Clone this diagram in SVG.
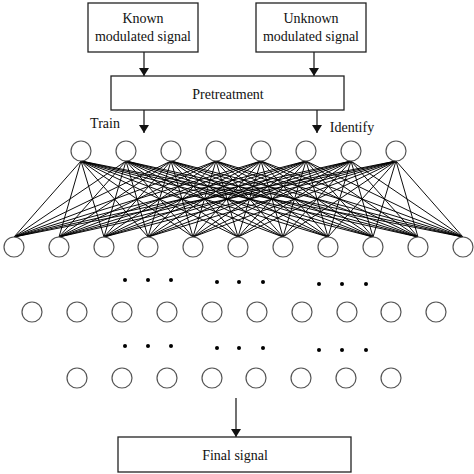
<svg xmlns="http://www.w3.org/2000/svg" width="474" height="474" viewBox="0 0 474 474">
<style>
.box{fill:#fff;stroke:#222;stroke-width:1.3}
.t{font-family:"Liberation Serif","Times New Roman",serif;font-size:14px;fill:#111;text-anchor:middle}
.n{fill:#fff;stroke:#555;stroke-width:1.2}
.arr{stroke:#111;stroke-width:1.2;fill:none;marker-end:url(#ah)}
.w{stroke:#000;stroke-width:0.95;fill:none}
.d{fill:#000}
</style>
<defs>
<marker id="ah" markerWidth="8" markerHeight="10" refX="8" refY="5" orient="auto" markerUnits="userSpaceOnUse">
<path d="M0,0 L8,5 L0,10 Z" fill="#111"/>
</marker>
</defs>
<rect width="474" height="474" fill="#fff"/>
<g id="connectors">
<line class="arr" x1="144" y1="52" x2="144" y2="76"/>
<line class="arr" x1="314" y1="52" x2="314" y2="76"/>
<line class="arr" x1="144" y1="110" x2="144" y2="133"/>
<line class="arr" x1="317" y1="110" x2="317" y2="133"/>
<line class="arr" x1="236" y1="398" x2="236" y2="437"/>
<g id="weights">
<path class="w" d="M81,161L14,237M81,161L59,237M81,161L104,237M81,161L148,237M81,161L193,237M81,161L238,237M81,161L283,237M81,161L328,237M81,161L373,237M81,161L418,237M81,161L463,237
M126,161L14,237M126,161L59,237M126,161L104,237M126,161L148,237M126,161L193,237M126,161L238,237M126,161L283,237M126,161L328,237M126,161L373,237M126,161L418,237M126,161L463,237
M171,161L14,237M171,161L59,237M171,161L104,237M171,161L148,237M171,161L193,237M171,161L238,237M171,161L283,237M171,161L328,237M171,161L373,237M171,161L418,237M171,161L463,237
M216,161L14,237M216,161L59,237M216,161L104,237M216,161L148,237M216,161L193,237M216,161L238,237M216,161L283,237M216,161L328,237M216,161L373,237M216,161L418,237M216,161L463,237
M261,161L14,237M261,161L59,237M261,161L104,237M261,161L148,237M261,161L193,237M261,161L238,237M261,161L283,237M261,161L328,237M261,161L373,237M261,161L418,237M261,161L463,237
M306,161L14,237M306,161L59,237M306,161L104,237M306,161L148,237M306,161L193,237M306,161L238,237M306,161L283,237M306,161L328,237M306,161L373,237M306,161L418,237M306,161L463,237
M351,161L14,237M351,161L59,237M351,161L104,237M351,161L148,237M351,161L193,237M351,161L238,237M351,161L283,237M351,161L328,237M351,161L373,237M351,161L418,237M351,161L463,237
M396,161L14,237M396,161L59,237M396,161L104,237M396,161L148,237M396,161L193,237M396,161L238,237M396,161L283,237M396,161L328,237M396,161L373,237M396,161L418,237M396,161L463,237"/>
</g>
</g>
<g id="known">
<rect class="box" x="88" y="3" width="110" height="49"/>
<text class="t" x="143" y="23">Known</text>
<text class="t" x="143" y="41">modulated signal</text>
</g>
<g id="unknown">
<rect class="box" x="256" y="3" width="110" height="49"/>
<text class="t" x="311" y="23">Unknown</text>
<text class="t" x="311" y="41">modulated signal</text>
</g>
<g id="pretreatment">
<rect class="box" x="111" y="76" width="233" height="34"/>
<text class="t" x="228" y="99">Pretreatment</text>
</g>
<g id="labels">
<text class="t" x="105" y="128">Train</text>
<text class="t" x="352" y="132">Identify</text>
</g>
<g id="layer1">
<circle class="n" cx="81" cy="151" r="10"/><circle class="n" cx="126" cy="151" r="10"/><circle class="n" cx="171" cy="151" r="10"/><circle class="n" cx="216" cy="151" r="10"/><circle class="n" cx="261" cy="151" r="10"/><circle class="n" cx="306" cy="151" r="10"/><circle class="n" cx="351" cy="151" r="10"/><circle class="n" cx="396" cy="151" r="10"/>
</g>
<g id="layer2">
<circle class="n" cx="14" cy="247" r="10"/><circle class="n" cx="59" cy="247" r="10"/><circle class="n" cx="104" cy="247" r="10"/><circle class="n" cx="148" cy="247" r="10"/><circle class="n" cx="193" cy="247" r="10"/><circle class="n" cx="238" cy="247" r="10"/><circle class="n" cx="283" cy="247" r="10"/><circle class="n" cx="328" cy="247" r="10"/><circle class="n" cx="373" cy="247" r="10"/><circle class="n" cx="418" cy="247" r="10"/><circle class="n" cx="463" cy="247" r="10"/>
</g>
<g id="dots1">
<circle class="d" cx="125" cy="280" r="2"/><circle class="d" cx="148" cy="280" r="2"/><circle class="d" cx="171" cy="280" r="2"/>
<circle class="d" cx="217" cy="282" r="2"/><circle class="d" cx="239" cy="282" r="2"/><circle class="d" cx="263" cy="282" r="2"/>
<circle class="d" cx="319" cy="284" r="2"/><circle class="d" cx="342" cy="284" r="2"/><circle class="d" cx="366" cy="284" r="2"/>
</g>
<g id="layer3">
<circle class="n" cx="32" cy="312" r="10"/><circle class="n" cx="77" cy="312" r="10"/><circle class="n" cx="122" cy="312" r="10"/><circle class="n" cx="167" cy="312" r="10"/><circle class="n" cx="212" cy="312" r="10"/><circle class="n" cx="257" cy="312" r="10"/><circle class="n" cx="302" cy="312" r="10"/><circle class="n" cx="347" cy="312" r="10"/><circle class="n" cx="391" cy="312" r="10"/><circle class="n" cx="436" cy="312" r="10"/>
</g>
<g id="dots2">
<circle class="d" cx="125" cy="346" r="2"/><circle class="d" cx="148" cy="346" r="2"/><circle class="d" cx="171" cy="346" r="2"/>
<circle class="d" cx="217" cy="348" r="2"/><circle class="d" cx="239" cy="348" r="2"/><circle class="d" cx="263" cy="348" r="2"/>
<circle class="d" cx="319" cy="350" r="2"/><circle class="d" cx="342" cy="350" r="2"/><circle class="d" cx="366" cy="350" r="2"/>
</g>
<g id="layer4">
<circle class="n" cx="77" cy="378" r="10"/><circle class="n" cx="122" cy="378" r="10"/><circle class="n" cx="167" cy="378" r="10"/><circle class="n" cx="212" cy="378" r="10"/><circle class="n" cx="256" cy="378" r="10"/><circle class="n" cx="301" cy="378" r="10"/><circle class="n" cx="346" cy="378" r="10"/><circle class="n" cx="391" cy="378" r="10"/>
</g>
<g id="final">
<rect class="box" x="118" y="437" width="233" height="35"/>
<text class="t" x="235" y="460">Final signal</text>
</g>
</svg>
